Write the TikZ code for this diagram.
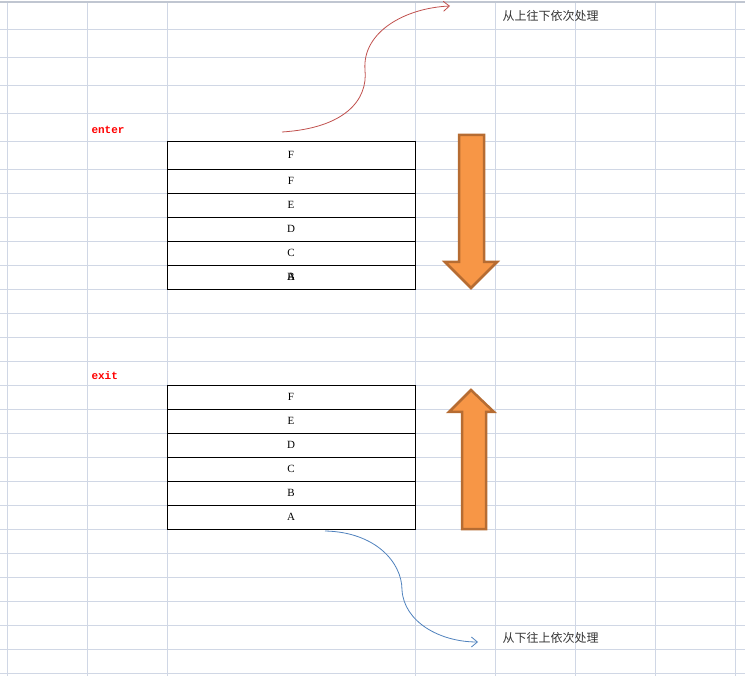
\documentclass[tikz,border=0pt]{standalone}
\usepackage{fontspec}
\setmainfont{Liberation Serif}
\newfontfamily\cjk{Noto Sans CJK SC}
\setmonofont{Liberation Mono}
\usetikzlibrary{arrows.meta}
\definecolor{gridc}{RGB}{208,215,229}
\definecolor{orfill}{RGB}{247,150,70}
\definecolor{ordraw}{RGB}{182,108,50}
\definecolor{redc}{RGB}{192,80,77}
\definecolor{bluec}{RGB}{79,129,189}
\tikzset{cell/.style={draw=black,line width=0.8pt,minimum width=248pt,minimum height=24pt,inner sep=0pt,font=\fontsize{11pt}{11pt}\selectfont},
lbl/.style={text=red,font=\ttfamily\bfseries\fontsize{11pt}{11pt}\selectfont,anchor=west},
note/.style={font=\cjk\fontsize{12pt}{12pt}\selectfont,anchor=west,text=black!80},
bigarrow/.style={fill=orfill,draw=ordraw,line width=2.5pt,line join=miter}}
\begin{document}
\begin{tikzpicture}[x=1pt,y=-1pt]
\useasboundingbox (0,0) rectangle (745,676);
% grid
\foreach \y in {29,57,85,113,141,169,193,...,673} \draw[gridc,line width=0.8pt] (0,\y) -- (745,\y);
\foreach \x in {7,87,167,415,495,575,655,735} \draw[gridc,line width=0.8pt] (\x,3) -- (\x,676);
\draw[gridc!80!gray,line width=1.5pt] (0,2) -- (745,2);
% labels
\node[lbl] (en) at (88,130) {enter};
\node[lbl] (ex) at (88,376) {exit};
% stacks
\foreach \l [count=\i from 0] in {F,E,D,C,B} {
  \node[cell,minimum height=24pt] (t\l) at (291,{181+24*\i}) {\l};
}
\node[cell,minimum height=28pt] (tF) at (291,155) {F};
\node[cell] (tA) at (291,277) {A};
\foreach \l [count=\i from 0] in {F,E,D,C,B,A} {
  \node[cell] (b\l) at (291,{397+24*\i}) {\l};
}
% big arrows
\draw[bigarrow] (459,135) -- (484,135) -- (484,262) -- (497,262) -- (471,288) -- (445,262) -- (459,262) -- cycle;
\draw[bigarrow] (462,529) -- (486,529) -- (486,412) -- (494,412) -- (471,390) -- (449,412) -- (462,412) -- cycle;
% notes
\node[note] (n1) at (499,16) {从上往下依次处理};
\node[note] (n2) at (499,638) {从下往上依次处理};
\coordinate (s1) at (282,132);
\coordinate (e1) at (450,6);
\coordinate (s2) at (325,531);
\coordinate (e2) at (478,642);
\draw[redc,line width=0.8pt,-{Straight Barb[length=6pt,width=10pt]}] (s1) .. controls (345,128) and (368,100) .. (365,70) .. controls (362,32) and (405,8) .. (e1);
\draw[bluec,line width=0.8pt,-{Straight Barb[length=6pt,width=10pt]}] (s2) .. controls (375,532) and (402,562) .. (402,590) .. controls (404,622) and (440,642) .. (e2);
\end{tikzpicture}
\end{document}
